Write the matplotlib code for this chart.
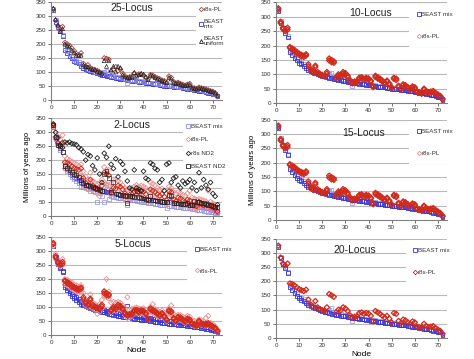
import matplotlib.pyplot as plt
import numpy as np
from matplotlib.lines import Line2D

plt.rcParams['font.family'] = ['Liberation Sans', 'DejaVu Sans']

nodes = np.arange(1, 73)

# shared BEAST mix / r8s-PL estimates (10, 15, 20 locus look alike)
beast_mix = [320, 280, 262, 245, 228, 178, 168, 158, 148, 140, 135, 130, 122, 115, 112, 108, 104, 101,
             98, 95, 93, 90, 88, 86, 84, 82, 80, 79, 77, 76, 74, 73, 71, 70, 69, 67, 66, 65, 63, 62,
             61, 60, 59, 57, 56, 55, 54, 52, 51, 50, 49, 48, 47, 46, 45, 44, 42, 41, 40, 39, 37, 36,
             34, 33, 31, 30, 28, 26, 24, 22, 20, 12]
beast_mix_b = [325, 285, 258, 250, 232, 185, 175, 165, 155, 145, 140, 136, 128, 120, 116, 112, 108, 105,
               100, 98, 96, 95, 100, 105, 92, 86, 85, 83, 82, 80, 78, 76, 60, 72, 72, 70, 68, 68, 66, 65,
               64, 62, 62, 60, 59, 57, 56, 55, 54, 53, 52, 50, 49, 48, 47, 46, 45, 44, 43, 41, 40, 38,
               37, 35, 34, 32, 30, 28, 27, 25, 22, 15]
r8s_pl = [325, 283, 262, 255, 262, 192, 190, 185, 178, 172, 168, 165, 170, 135, 118, 110, 130, 108,
          102, 98, 95, 108, 155, 150, 145, 90, 100, 98, 108, 104, 95, 80, 72, 75, 76, 88, 90, 85, 88, 86,
          78, 58, 95, 90, 85, 78, 72, 78, 68, 55, 88, 85, 60, 52, 65, 62, 55, 50, 58, 55, 40, 38,
          35, 50, 42, 38, 40, 42, 35, 30, 25, 15]
r8s_pl_b = [330, 278, 258, 250, 255, 195, 185, 180, 172, 168, 162, 160, 165, 128, 112, 105, 125, 102,
            98, 95, 92, 102, 148, 142, 140, 86, 95, 92, 102, 98, 90, 76, 68, 72, 72, 84, 86, 80, 84, 82,
            74, 55, 90, 85, 80, 74, 68, 74, 64, 52, 84, 80, 56, 48, 62, 58, 52, 46, 54, 50, 38, 35,
            32, 46, 38, 35, 36, 38, 32, 28, 22, 12]

# 25-locus
r8s_25 = [325, 285, 265, 250, 262, 205, 200, 195, 185, 175, 165, 160, 168, 130, 120, 125, 115, 110,
          105, 105, 100, 95, 150, 148, 145, 100, 110, 118, 105, 110, 95, 85, 80, 82, 85, 95, 88, 92, 90, 88,
          80, 75, 90, 88, 82, 78, 75, 70, 68, 62, 85, 80, 65, 60, 62, 58, 55, 52, 55, 58, 45, 42,
          40, 45, 42, 40, 38, 35, 32, 30, 25, 15]
beast_uni_25 = [328, 288, 268, 245, 255, 200, 195, 190, 178, 170, 160, 158, 160, 125, 118, 118, 112, 108,
                110, 102, 98, 95, 140, 120, 140, 108, 120, 100, 120, 115, 90, 82, 78, 80, 82, 98, 85, 90, 95, 92,
                82, 72, 88, 85, 80, 75, 72, 68, 66, 62, 80, 75, 62, 58, 60, 55, 52, 50, 52, 55, 42, 40,
                38, 42, 40, 38, 36, 33, 30, 28, 24, 14]

# 5-locus spread
r8s_5_hi = [330, 290, 270, 262, 272, 200, 198, 192, 188, 180, 178, 172, 178, 150, 125, 118, 145, 115,
            110, 105, 110, 125, 158, 200, 155, 115, 118, 115, 118, 115, 105, 95, 135, 90, 92, 95, 98, 95, 92, 95,
            90, 80, 100, 110, 92, 88, 82, 88, 78, 72, 95, 105, 75, 68, 72, 70, 65, 62, 68, 65, 52, 50,
            45, 55, 52, 48, 60, 68, 42, 38, 30, 18]
r8s_5_lo = [318, 272, 255, 245, 250, 180, 178, 172, 165, 160, 155, 150, 155, 120, 105, 100, 115, 95,
            90, 75, 82, 95, 140, 135, 130, 80, 90, 85, 95, 92, 85, 70, 60, 62, 68, 78, 80, 75, 78, 76,
            68, 55, 82, 78, 72, 66, 62, 68, 58, 48, 75, 72, 52, 45, 55, 52, 48, 42, 50, 45, 35, 32,
            30, 42, 35, 32, 32, 35, 28, 25, 20, 10]
beast_5_b = [318, 275, 255, 240, 225, 172, 160, 150, 140, 132, 125, 118, 110, 105, 102, 98, 95, 92,
             90, 88, 85, 82, 80, 78, 76, 75, 72, 70, 68, 67, 65, 64, 105, 62, 60, 58, 57, 56, 54, 53,
             52, 51, 50, 48, 47, 46, 45, 43, 42, 41, 40, 39, 38, 37, 36, 35, 34, 33, 32, 31, 30, 28,
             27, 26, 25, 23, 22, 20, 18, 16, 14, 8]

# 2-locus spread
beast_2_b = [318, 275, 255, 238, 228, 170, 160, 150, 140, 132, 125, 118, 105, 102, 100, 96, 90, 88,
             85, 48, 82, 70, 50, 112, 60, 72, 68, 66, 65, 63, 62, 60, 38, 58, 56, 55, 54, 52, 50, 49,
             48, 46, 45, 44, 43, 42, 40, 38, 37, 28, 36, 35, 34, 33, 32, 30, 29, 28, 27, 26, 25, 24,
             22, 21, 20, 18, 16, 15, 13, 12, 10, 5]
r8s_2_hi = [330, 300, 285, 275, 290, 215, 205, 200, 195, 190, 185, 180, 185, 160, 140, 130, 155, 125,
            120, 115, 118, 130, 175, 165, 165, 115, 130, 130, 125, 120, 110, 100, 95, 95, 100, 105, 110, 105, 108, 105,
            100, 90, 120, 115, 110, 100, 95, 98, 90, 80, 105, 100, 85, 80, 85, 82, 75, 72, 80, 90, 65, 62,
            58, 60, 58, 55, 52, 90, 50, 45, 40, 25]
r8s_2_lo = [320, 275, 255, 245, 250, 170, 165, 160, 155, 150, 145, 140, 145, 110, 100, 95, 105, 90,
            85, 80, 70, 85, 120, 115, 110, 75, 80, 78, 85, 80, 72, 62, 55, 58, 60, 68, 70, 65, 68, 66,
            60, 48, 72, 70, 65, 60, 55, 60, 50, 42, 68, 65, 45, 40, 48, 45, 40, 36, 42, 38, 30, 28,
            25, 35, 30, 28, 28, 30, 25, 20, 15, 8]
r8s_nd2 = [330, 300, 280, 255, 245, 265, 262, 265, 260, 258, 255, 245, 240, 230, 200, 220, 215, 180,
           165, 208, 150, 120, 225, 210, 250, 185, 170, 205, 140, 195, 185, 160, 125, 100, 95, 165, 100, 95, 90, 160,
           135, 130, 190, 185, 170, 165, 120, 130, 90, 185, 190, 120, 135, 140, 110, 100, 125, 115, 120, 130, 100, 120,
           90, 155, 100, 130, 110, 95, 120, 80, 70, 40]
beast_nd2 = [325, 285, 255, 250, 230, 180, 172, 165, 158, 150, 145, 140, 128, 118, 112, 110, 108, 105,
             100, 95, 92, 90, 150, 160, 135, 85, 120, 80, 78, 76, 75, 72, 45, 70, 72, 68, 90, 66, 64, 62,
             60, 58, 70, 56, 55, 54, 52, 50, 50, 48, 75, 70, 46, 45, 44, 43, 42, 42, 45, 40, 40, 52,
             50, 48, 45, 45, 42, 40, 38, 35, 32, 30]

BLUE = '#3434dc'
LBLUE = '#8a8af0'
RED = '#d02a1c'
PINK = '#e89090'
BROWN = '#a0463c'
BLACK = '#1e1e1e'

fig = plt.figure(figsize=(4.74, 3.59), dpi=100)


def make_ax(rect, title, tx, ty, ylab=False, xlab=False):
    ax = fig.add_axes(rect)
    ax.set_xlim(0, 74)
    ax.set_ylim(0, 350)
    ax.set_xticks(range(0, 71, 10))
    ax.set_yticks(range(0, 351, 50))
    for y in range(50, 351, 50):
        ax.axhline(y, color='#b8b8b8', lw=1.6 if y == 350 else 0.8, zorder=0)
    for s in ['top', 'right']:
        ax.spines[s].set_visible(False)
    for s in ['left', 'bottom']:
        ax.spines[s].set_color('#808080')
        ax.spines[s].set_linewidth(0.8)
    ax.tick_params(labelsize=4.5, colors='#333333', length=2, width=0.5, pad=1.5)
    ax.text(tx, ty, title, fontsize=7.5, ha='center', va='center', color='#222222')
    if ylab:
        ax.set_ylabel('Millions of years ago', fontsize=5.5, labelpad=3)
    if xlab:
        ax.set_xlabel('Node', fontsize=6, labelpad=2)
    return ax


def pts(ax, vals, marker, color, s=8, lw=0.6, z=2):
    ax.scatter(nodes, vals, marker=marker, s=s, facecolors='none', edgecolors=color,
               linewidths=lw, zorder=z)


def key(ax, entries, x0, top=346, spacing=1.0, pad=1.0):
    handles = [Line2D([], [], ls='none', marker=m, mfc='none', mec=c, ms=ms, mew=0.6)
               for _, m, c, ms in entries]
    leg = ax.legend(handles, [e[0] for e in entries], loc='upper left',
                    bbox_to_anchor=(x0, top), bbox_transform=ax.transData,
                    fontsize=4.5, frameon=True, framealpha=1, facecolor='white',
                    edgecolor='none', fancybox=False, borderaxespad=0, borderpad=pad,
                    handlelength=0.5, handletextpad=0.2, labelspacing=spacing)
    for t in leg.get_texts():
        t.set_color('#333333')
        t.set_linespacing(1.0)
    leg.set_zorder(1)
    return leg


# 25-Locus
ax = make_ax([0.1076, 0.722, 0.361, 0.272], '25-Locus', 35, 330)
key(ax, [('r8s-PL', 'D', BROWN, 2.2), ('BEAST\nmix', 's', BLUE, 2.8), ('BEAST\nuniform', '^', BLACK, 2.8)],
    62.5, spacing=1.1, pad=0.6)
pts(ax, beast_mix, 's', BLUE)
pts(ax, beast_mix_b, 's', LBLUE, lw=0.5)
pts(ax, r8s_25, 'D', BROWN, s=6)
pts(ax, beast_uni_25, '^', BLACK, s=8, lw=0.5)

# 10-Locus
ax = make_ax([0.5823, 0.7131, 0.361, 0.28], '10-Locus', 41, 312)
key(ax, [('BEAST mix', 's', BLUE, 2.8), ('r8s-PL', 'D', PINK, 2.2)], 57.5, spacing=2.6, pad=1.3)
pts(ax, beast_mix_b, 's', LBLUE, lw=0.5)
pts(ax, beast_mix, 's', BLUE)
pts(ax, r8s_pl_b, 'D', RED, s=7, lw=0.9)
pts(ax, r8s_pl, 'D', RED, s=7, lw=0.9)

# 2-Locus
ax = make_ax([0.1076, 0.399, 0.361, 0.271], '2-Locus', 35, 325, ylab=True)
key(ax, [('BEAST mix', 's', LBLUE, 2.8), ('r8s-PL', 'D', PINK, 2.2), ('r8s ND2', 'D', BLACK, 2.2),
         ('BEAST ND2', 's', BLACK, 2.8)], 57, spacing=1.3, pad=0.6)
pts(ax, beast_mix, 's', BLUE)
pts(ax, beast_2_b, 's', LBLUE, lw=0.5)
pts(ax, r8s_2_lo, 'D', PINK, s=7, lw=0.6)
pts(ax, r8s_2_hi, 'D', PINK, s=7, lw=0.6)
pts(ax, r8s_pl, 'D', RED, s=7, lw=0.7)
pts(ax, beast_nd2, 's', BLACK, lw=0.5, z=3)
pts(ax, r8s_nd2, 'D', BLACK, s=6, lw=0.6, z=3)

# 15-Locus
ax = make_ax([0.5823, 0.3872, 0.361, 0.279], '15-Locus', 38, 305, ylab=True)
key(ax, [('BEAST mix', 's', BLUE, 2.8), ('r8s-PL', 'D', PINK, 2.2)], 57.5, spacing=2.6, pad=1.3)
pts(ax, beast_mix_b, 's', LBLUE, lw=0.5)
pts(ax, beast_mix, 's', BLUE)
pts(ax, r8s_pl_b, 'D', RED, s=7, lw=0.9)
pts(ax, r8s_pl, 'D', RED, s=7, lw=0.9)

# 5-Locus
ax = make_ax([0.1076, 0.0677, 0.361, 0.271], '5-Locus', 35.5, 325, xlab=True)
key(ax, [('BEAST mix', 's', BLUE, 2.8), ('r8s-PL', 'D', PINK, 2.2)], 59, spacing=2.6, pad=1.3)
pts(ax, beast_5_b, 's', BLUE)
pts(ax, beast_mix, 's', BLUE)
pts(ax, r8s_5_lo, 'D', PINK, s=7, lw=0.6)
pts(ax, r8s_5_hi, 'D', PINK, s=7, lw=0.6)
pts(ax, r8s_pl, 'D', RED, s=7, lw=0.8)
pts(ax, r8s_pl_b, 'D', RED, s=7, lw=0.8)

# 20-Locus
ax = make_ax([0.5823, 0.0585, 0.361, 0.277], '20-Locus', 34, 310, xlab=True)
key(ax, [('BEAST mix', 's', BLUE, 2.8), ('r8s-PL', 'D', RED, 2.2)], 56, spacing=2.6, pad=1.3)
pts(ax, beast_mix_b, 's', LBLUE, lw=0.5)
pts(ax, beast_mix, 's', BLUE)
pts(ax, r8s_pl, 'D', RED, s=7, lw=0.9)

fig.savefig('out.png', dpi=100)
